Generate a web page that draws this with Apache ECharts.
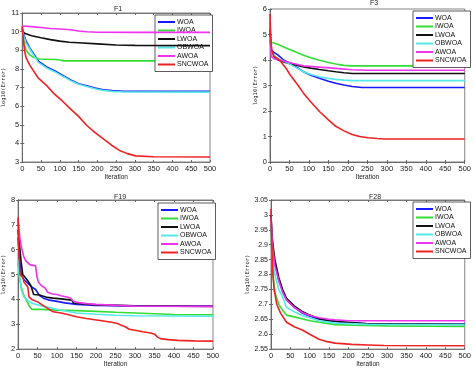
<!DOCTYPE html>
<html><head><meta charset="utf-8">
<script src="https://cdn.jsdelivr.net/npm/echarts@6/dist/echarts.min.js"></script>
<style>html,body{margin:0;padding:0;background:#fff}#c{width:474px;height:369px}</style>
</head><body><div id="c"></div>
<script>
const names = ['WOA','IWOA','LWOA','OBWOA','AWOA','SNCWOA'];
const colors = ['#1a1aff','#33dd33','#111111','#55e8e8','#ee33ee','#ee2222'];
const titles = ['F1','F3','F19','F28'];

// F1
const F1_WOA = [[0,10.2],[5,9.8],[10,9.5],[22,9.05],[43,8.42],[65,8.1],[86,7.9],[108,7.65],[129,7.4],[150,7.2],[172,7.09],[194,6.97],[216,6.88],[240,6.83],[270,6.8],[500,6.8]];
const F1_IWOA = [[0,10.2],[5,9.4],[10,9.0],[20,8.75],[30,8.62],[45,8.53],[60,8.52],[90,8.5],[100,8.48],[110,8.43],[500,8.43]];
const F1_LWOA = [[0,10.1],[3,9.95],[10,9.88],[25,9.78],[50,9.67],[75,9.57],[100,9.49],[125,9.43],[150,9.4],[200,9.34],[250,9.28],[300,9.26],[500,9.25]];
const F1_OBWOA = [[0,10.1],[5,9.7],[10,9.4],[22,9.0],[43,8.35],[65,8.05],[86,7.85],[108,7.6],[129,7.37],[150,7.17],[172,7.05],[194,6.93],[216,6.84],[240,6.79],[270,6.76],[500,6.75]];
const F1_AWOA = [[0,10.3],[25,10.27],[50,10.22],[75,10.17],[100,10.14],[129,10.1],[150,10.03],[172,9.99],[200,9.97],[300,9.96],[500,9.96]];
const F1_SNCWOA = [[0,10.3],[3,9.6],[6,9.0],[10,8.6],[20,8.2],[43,7.5],[65,7.1],[86,6.64],[108,6.25],[129,5.84],[150,5.45],[172,4.96],[194,4.58],[216,4.24],[238,3.9],[259,3.62],[280,3.45],[302,3.33],[350,3.28],[500,3.27]];

// F3
const F3_WOA = [[0,4.8],[3,4.4],[10,4.3],[20,4.2],[35,4.0],[52,3.86],[70,3.7],[86,3.54],[105,3.4],[127,3.28],[150,3.17],[169,3.09],[190,3.02],[211,2.96],[236,2.92],[500,2.92]];
const F3_IWOA = [[0,5.0],[3,4.7],[20,4.62],[44,4.45],[65,4.32],[86,4.19],[105,4.09],[127,3.99],[150,3.9],[169,3.84],[190,3.79],[211,3.77],[500,3.77]];
const F3_LWOA = [[0,5.2],[3,4.4],[10,4.15],[20,4.0],[40,3.9],[60,3.82],[86,3.73],[105,3.68],[127,3.63],[150,3.58],[169,3.54],[190,3.5],[211,3.47],[500,3.47]];
const F3_OBWOA = [[0,4.9],[3,4.35],[10,4.2],[20,4.05],[40,3.93],[60,3.76],[86,3.54],[105,3.43],[127,3.34],[150,3.28],[169,3.24],[190,3.21],[211,3.19],[500,3.19]];
const F3_AWOA = [[0,5.5],[3,4.15],[10,4.05],[25,4.0],[44,3.92],[60,3.86],[86,3.77],[127,3.72],[169,3.67],[211,3.62],[250,3.6],[500,3.6]];
const F3_SNCWOA = [[0,5.8],[2,4.8],[5,4.35],[10,4.15],[25,3.99],[40,3.7],[52,3.41],[70,3.05],[86,2.7],[105,2.35],[127,1.98],[150,1.65],[169,1.4],[190,1.22],[211,1.08],[230,1.0],[252,0.95],[275,0.92],[294,0.9],[500,0.9]];

// F19
const F19_WOA = [[0,6.5],[3,5.8],[8,5.0],[15,4.8],[25,4.65],[35,4.5],[45,4.4],[55,4.15],[65,4.05],[80,3.97],[100,3.92],[120,3.86],[150,3.8],[200,3.76],[300,3.74],[500,3.73]];
const F19_IWOA = [[0,5.5],[3,5.0],[8,4.5],[15,4.15],[20,4.0],[30,3.7],[35,3.6],[60,3.6],[100,3.57],[150,3.55],[200,3.52],[250,3.48],[300,3.45],[350,3.42],[400,3.39],[500,3.38]];
const F19_LWOA = [[0,6.8],[3,6.3],[8,5.5],[12,5.0],[20,4.85],[25,4.75],[33,4.55],[38,4.5],[40,4.2],[55,4.18],[58,4.12],[75,4.08],[90,4.05],[110,4.02],[138,3.97],[142,3.85],[170,3.82],[200,3.78],[250,3.76],[300,3.74],[500,3.72]];
const F19_OBWOA = [[0,5.6],[3,5.0],[8,4.4],[15,4.1],[25,3.95],[35,3.85],[50,3.78],[65,3.72],[100,3.6],[125,3.52],[150,3.45],[200,3.4],[250,3.36],[300,3.34],[500,3.32]];
const F19_AWOA = [[0,7.2],[2,6.9],[5,6.4],[10,6.0],[15,5.7],[20,5.55],[30,5.4],[45,5.35],[48,4.95],[52,4.7],[60,4.55],[70,4.45],[75,4.3],[88,4.22],[100,4.2],[110,4.15],[125,4.1],[135,4.05],[140,3.95],[150,3.88],[175,3.83],[200,3.8],[250,3.76],[300,3.73],[500,3.72]];
const F19_SNCWOA = [[0,7.3],[2,6.0],[5,5.0],[12,4.9],[15,4.7],[25,4.5],[28,4.1],[35,4.0],[50,3.9],[60,3.8],[75,3.65],[90,3.5],[110,3.45],[130,3.38],[150,3.3],[175,3.23],[210,3.15],[240,3.08],[255,3.03],[262,2.98],[275,2.9],[285,2.8],[300,2.76],[320,2.7],[340,2.65],[350,2.6],[358,2.48],[365,2.42],[385,2.38],[410,2.35],[450,2.33],[500,2.32]];

// F28
const F28_WOA = [[0,3.0],[2,2.93],[5,2.88],[10,2.84],[20,2.78],[30,2.745],[40,2.715],[60,2.69],[82,2.67],[100,2.66],[124,2.65],[150,2.645],[200,2.638],[250,2.635],[300,2.634],[500,2.634]];
const F28_IWOA = [[0,2.97],[2,2.88],[5,2.8],[10,2.74],[20,2.7],[30,2.68],[40,2.664],[60,2.658],[82,2.651],[100,2.645],[124,2.64],[166,2.632],[211,2.63],[300,2.628],[500,2.626]];
const F28_LWOA = [[0,3.0],[2,2.94],[5,2.9],[10,2.85],[20,2.79],[30,2.75],[40,2.72],[60,2.695],[82,2.675],[100,2.664],[124,2.652],[150,2.645],[200,2.64],[250,2.635],[500,2.633]];
const F28_OBWOA = [[0,2.98],[2,2.9],[5,2.84],[10,2.8],[20,2.75],[30,2.725],[40,2.69],[60,2.675],[82,2.662],[100,2.655],[124,2.645],[166,2.637],[250,2.633],[500,2.632]];
const F28_AWOA = [[0,2.99],[2,2.93],[5,2.88],[10,2.83],[20,2.78],[30,2.74],[40,2.715],[60,2.69],[82,2.672],[100,2.663],[124,2.655],[150,2.65],[166,2.648],[200,2.645],[500,2.645]];
const F28_SNCWOA = [[0,3.02],[2,2.9],[5,2.8],[8,2.75],[15,2.7],[25,2.67],[40,2.64],[60,2.625],[82,2.613],[100,2.6],[124,2.583],[145,2.575],[166,2.57],[208,2.566],[250,2.564],[292,2.562],[500,2.561]];

const xTicks = {min:0, max:500, interval:50};
const yTicks = [
  {min:3, max:11, interval:1},
  {min:0, max:6, interval:1},
  {min:2, max:8, interval:1},
  {min:2.55, max:3.05, interval:0.05}
];
const allData = [
  [F1_WOA,F1_IWOA,F1_LWOA,F1_OBWOA,F1_AWOA,F1_SNCWOA],
  [F3_WOA,F3_IWOA,F3_LWOA,F3_OBWOA,F3_AWOA,F3_SNCWOA],
  [F19_WOA,F19_IWOA,F19_LWOA,F19_OBWOA,F19_AWOA,F19_SNCWOA],
  [F28_WOA,F28_IWOA,F28_LWOA,F28_OBWOA,F28_AWOA,F28_SNCWOA]
];

const grids = [
  {left:16, top:13, width:194, height:149},
  {left:270, top:9, width:198, height:153},
  {left:17, top:200, width:196, height:153},
  {left:271, top:200, width:197, height:152}
];
const titlePos = [[113,1],[369,-5],[115,189],[370,189]];
const legendPos = [[155,15],[413,11],[158,203],[413,202]];
const yNameGap = [9,9,9,15];

const FONT = 'Liberation Sans, Arial, sans-serif';
const axisCol = '#666';
const option = {
  backgroundColor:'#fff',
  animation:false,
  title: titles.map((t,i)=>({text:t, left:titlePos[i][0], top:titlePos[i][1], textAlign:'center',
    textStyle:{fontSize:7, fontWeight:'normal', color:'#222', fontFamily:FONT}})),
  legend: grids.map((g,i)=>({data:names.map((n,k)=>({name:n, icon:'rect', itemStyle:{color:colors[k]}})),
    orient:'vertical', left:legendPos[i][0], top:legendPos[i][1],
    backgroundColor:'#fff', borderColor:'#333', borderWidth:0.8, padding:[3,4,3,3],
    itemWidth:17, itemHeight:2, itemGap:0.5, selectedMode:false,
    textStyle:{fontSize:7, lineHeight:8, color:'#111', fontFamily:FONT, padding:[0,0,0,-3]}})),
  grid: grids.map(g=>Object.assign({show:true, borderColor:axisCol, borderWidth:0.8, containLabel:false}, g)),
  xAxis: [],
  yAxis: [],
  series: []
};
grids.forEach((g,i)=>{
  option.xAxis.push({type:'value', gridIndex:i, min:xTicks.min, max:xTicks.max, interval:xTicks.interval,
    name:'Iteration', nameLocation:'middle', nameGap:10,
    nameTextStyle:{fontSize:6.5, color:'#222', fontFamily:FONT},
    axisLine:{lineStyle:{color:axisCol, width:0.8}}, axisTick:{inside:true, length:2, lineStyle:{color:axisCol}},
    axisLabel:{fontSize:7.5, color:'#222', margin:3, fontFamily:FONT}, splitLine:{show:false}});
  option.xAxis.push({type:'value', gridIndex:i, position:'top', min:xTicks.min, max:xTicks.max, interval:xTicks.interval,
    axisLine:{lineStyle:{color:axisCol, width:0.8}}, axisTick:{inside:true, length:2, lineStyle:{color:axisCol}},
    axisLabel:{show:false}, splitLine:{show:false}});
  const yt = yTicks[i];
  option.yAxis.push({type:'value', gridIndex:i, min:yt.min, max:yt.max, interval:yt.interval,
    name:'log10(Error)', nameLocation:'middle', nameRotate:90, nameGap:yNameGap[i],
    nameTextStyle:{fontSize:5.5, color:'#222', fontFamily:'DejaVu Sans Mono, monospace'},
    axisLine:{show:true, lineStyle:{color:axisCol, width:0.8}}, axisTick:{show:true, inside:true, length:2, lineStyle:{color:axisCol}},
    axisLabel:{fontSize:i===3?7:7.5, color:'#222', margin:3, fontFamily:FONT, formatter:v=>String(+v.toFixed(2))}, splitLine:{show:false}});
  option.yAxis.push({type:'value', gridIndex:i, position:'right', min:yt.min, max:yt.max, interval:yt.interval,
    axisLine:{show:true, lineStyle:{color:axisCol, width:0.8}}, axisTick:{show:true, inside:true, length:2, lineStyle:{color:axisCol}},
    axisLabel:{show:false}, splitLine:{show:false}});
  names.forEach((n,k)=>{
    option.series.push({name:n, type:'line', xAxisIndex:2*i, yAxisIndex:2*i, data:allData[i][k],
      showSymbol:false, symbol:'none', color:colors[k], lineStyle:{color:colors[k], width:1.6}, z:2+k});
  });
});
const chart = echarts.init(document.getElementById('c'), null, {renderer:'canvas'});
chart.setOption(option);
</script></body></html>
